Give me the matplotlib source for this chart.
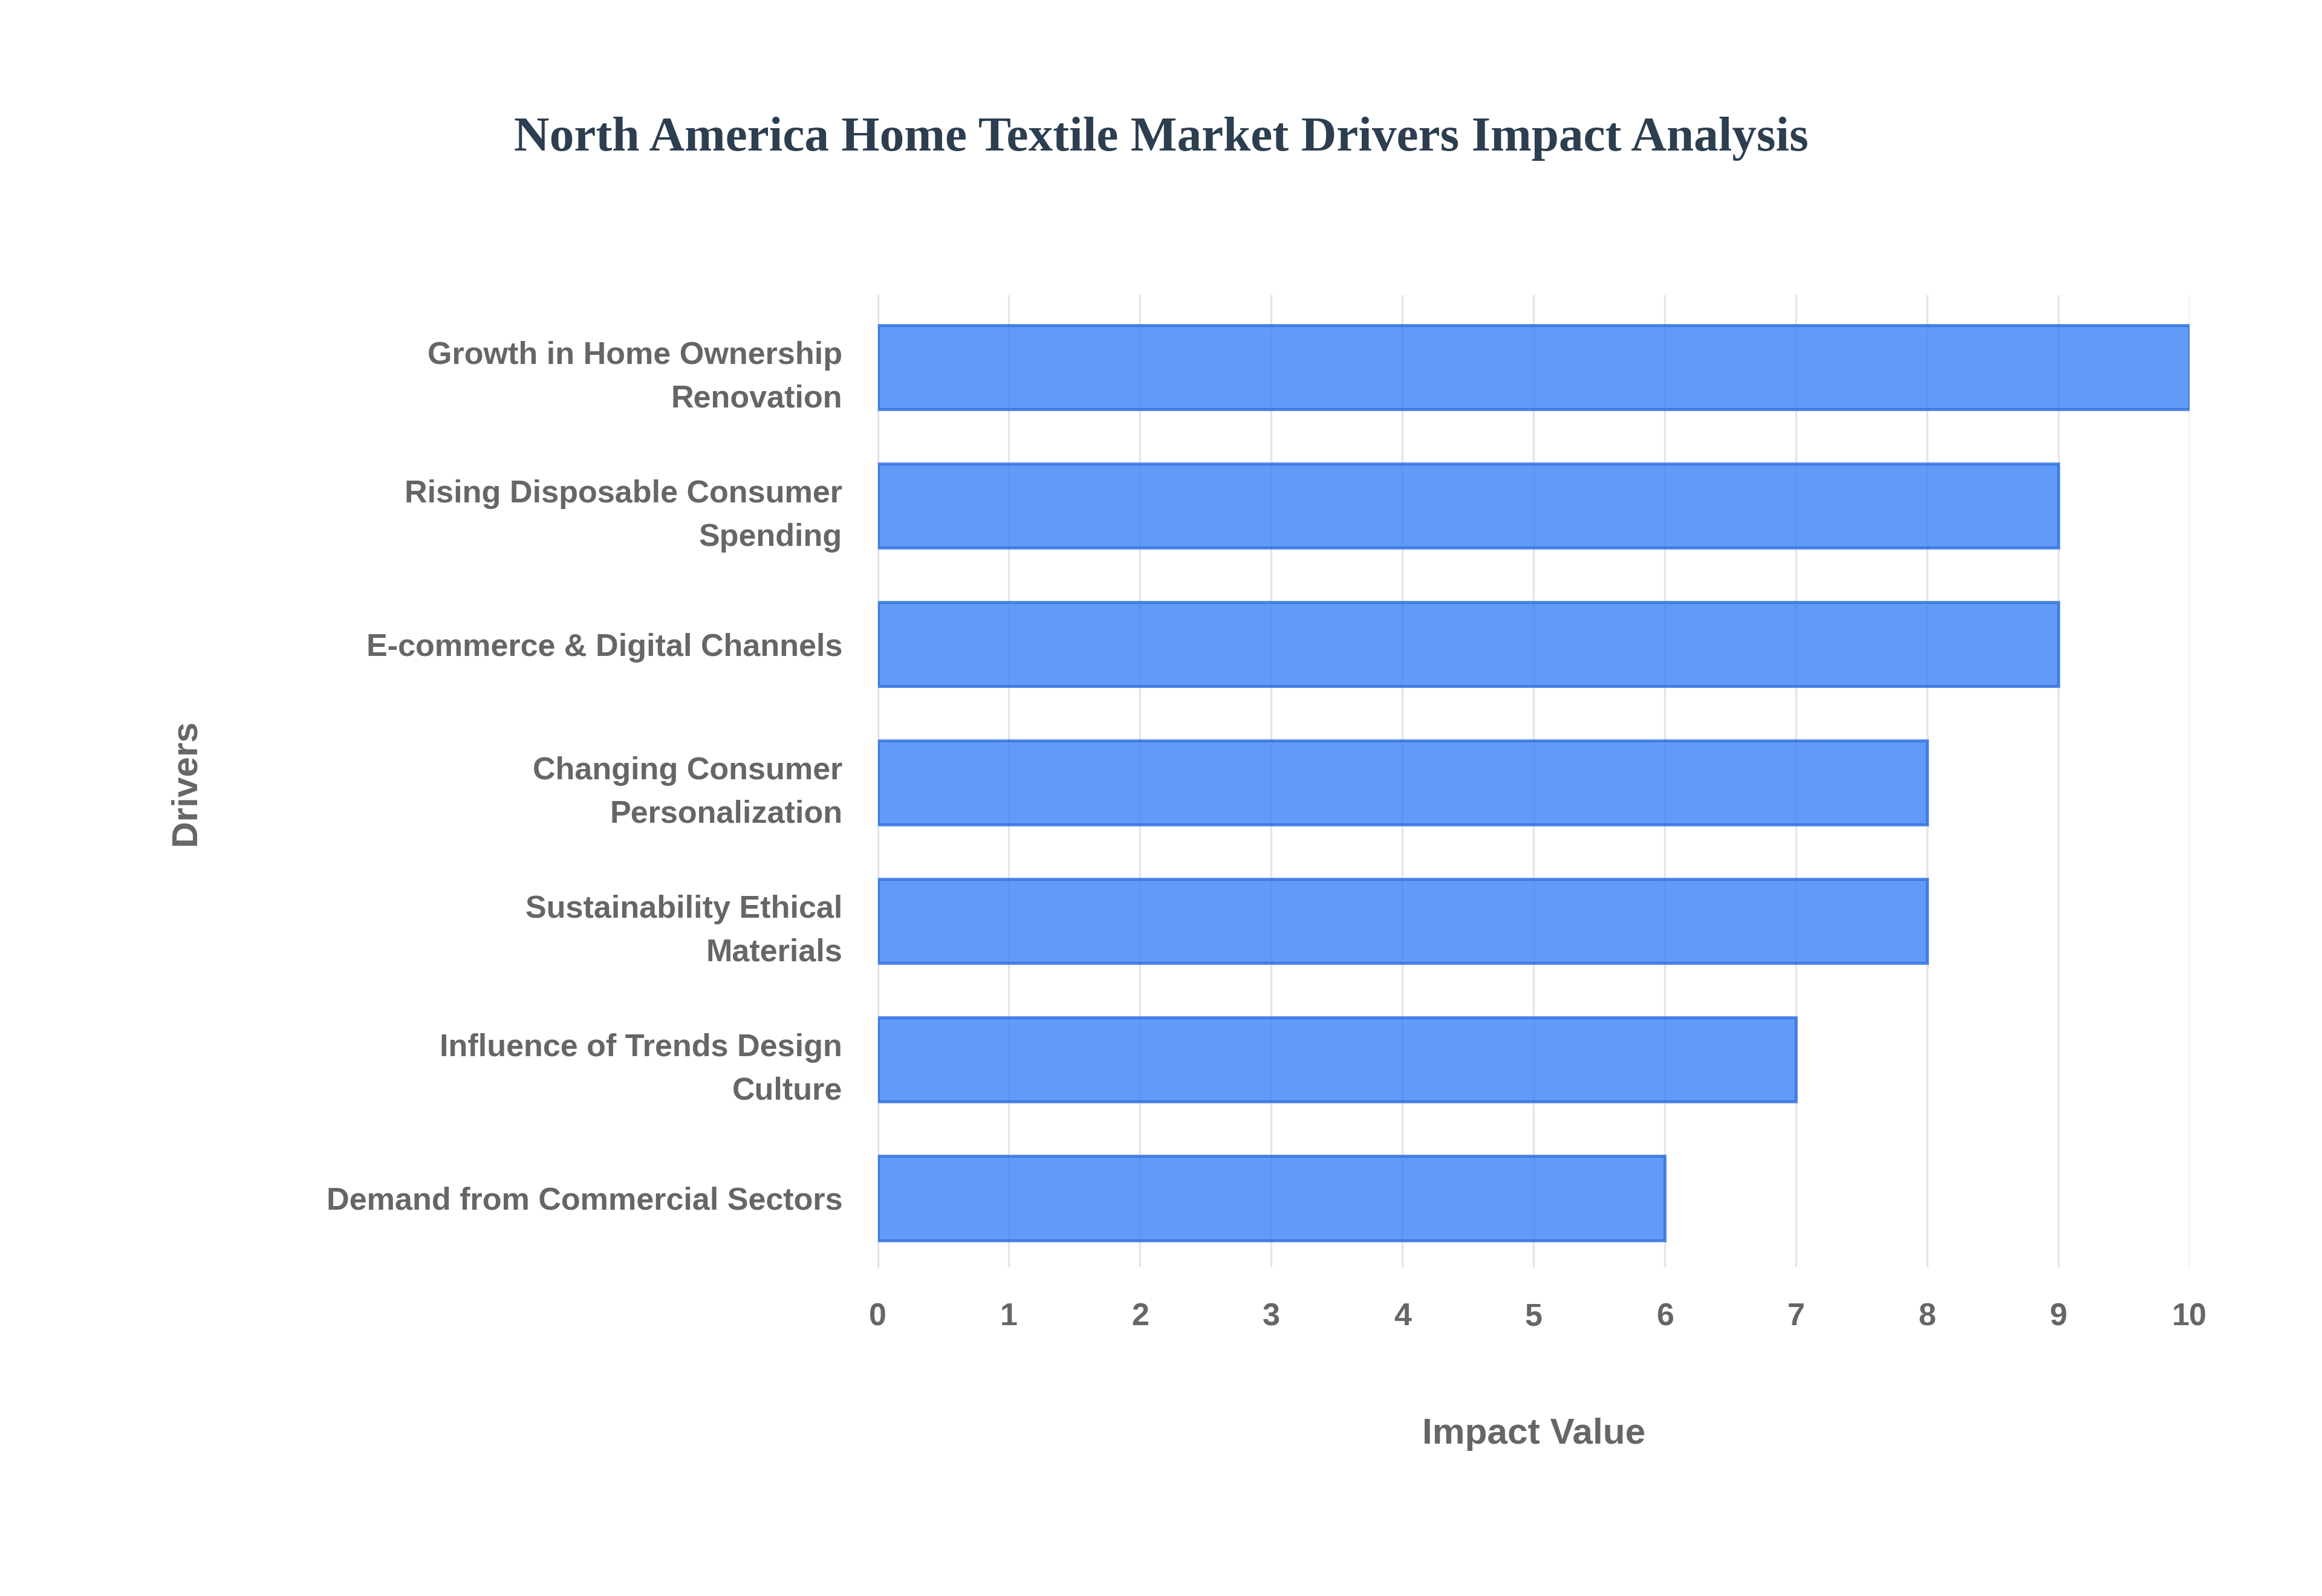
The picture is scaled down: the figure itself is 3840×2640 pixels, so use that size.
import matplotlib
matplotlib.use("Agg")
from matplotlib import pyplot as plt

drivers = ["Growth in Home Ownership\nRenovation",
           "Rising Disposable Consumer\nSpending",
           "E-commerce & Digital Channels",
           "Changing Consumer\nPersonalization",
           "Sustainability Ethical\nMaterials",
           "Influence of Trends Design\nCulture",
           "Demand from Commercial Sectors"]
impact = [10, 9, 9, 8, 8, 7, 6]

fig = plt.figure(figsize=(12.8, 8.8), dpi=300)
ax = fig.add_axes([0.378, 0.206, 0.565, 0.609])

pos = list(range(len(drivers)))
ax.barh(pos, impact, height=0.61, color="#3b82f6", alpha=0.8,
        edgecolor="#2f6fe0", linewidth=1.2, zorder=3)
ax.set_yticks(pos)
ax.set_yticklabels(drivers, fontfamily="Liberation Sans", fontweight="bold",
                   fontsize=12.5, color="#666666", linespacing=1.6)
ax.set_ylim(len(drivers) - 0.5, -0.52)
ax.set_xlim(0, 10)
ax.set_xticks(range(11))
for t in ax.get_xticklabels():
    t.set_fontfamily("Liberation Sans")
    t.set_fontweight("bold")
    t.set_fontsize(12.5)
    t.set_color("#666666")
ax.tick_params(axis="both", length=0, pad=14)
ax.grid(axis="x", color="#e5e5e5", linewidth=0.8, zorder=0)
for s in ["top", "right", "bottom"]:
    ax.spines[s].set_visible(False)
ax.spines["left"].set_color("#e5e5e5")

ax.set_xlabel("Impact Value", fontfamily="Liberation Sans", fontweight="bold",
              fontsize=14.5, color="#666666", labelpad=34)
fig.text(0.08, 0.51, "Drivers", rotation=90, va="center", ha="center",
         fontfamily="Liberation Sans", fontweight="bold", fontsize=14.5, color="#666666")
fig.text(0.5, 0.913, "North America Home Textile Market Drivers Impact Analysis",
         ha="center", va="center", fontfamily="Liberation Serif", fontweight="bold",
         fontsize=19.5, color="#2c3e50")

fig.savefig("out.png", dpi=300, facecolor="white")
